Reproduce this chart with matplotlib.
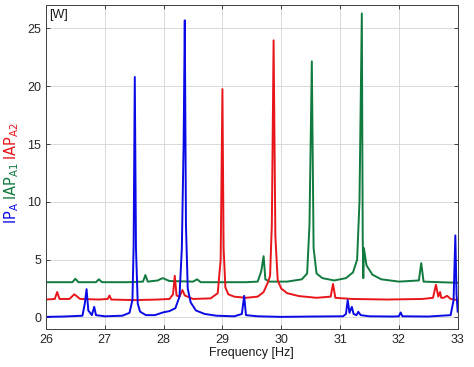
import numpy as np
import matplotlib
matplotlib.use("Agg")
import matplotlib.pyplot as plt

plt.rcParams['font.family'] = ['Liberation Sans', 'DejaVu Sans']

# ---------- Data ----------

blue_f = [26.00, 26.30, 26.62, 26.66, 26.69, 26.72, 26.78, 26.82, 26.85, 27.00,
          27.30, 27.42, 27.47, 27.49, 27.51, 27.53, 27.56, 27.60, 27.70, 27.85,
          28.00, 28.10, 28.20, 28.27, 28.31, 28.34, 28.36, 28.38, 28.41, 28.46,
          28.55, 28.70, 28.90, 29.20, 29.33, 29.37, 29.40, 29.60, 30.00, 30.50,
          31.05, 31.10, 31.13, 31.16, 31.20, 31.23, 31.28, 31.31, 31.35, 31.50,
          31.90, 32.00, 32.03, 32.06, 32.50, 32.88, 32.93, 32.96, 32.98, 33.00]
blue_v = [0.05, 0.08, 0.15, 1.2, 2.45, 0.6, 0.2, 0.92, 0.2, 0.1,
          0.15, 0.4, 1.5, 6.1, 20.8, 6.0, 1.2, 0.5, 0.2, 0.2,
          0.45, 0.55, 0.8, 1.8, 6.0, 15.0, 25.7, 8.0, 2.5, 1.3,
          0.6, 0.3, 0.15, 0.1, 0.3, 1.87, 0.2, 0.1, 0.05, 0.08,
          0.1, 0.3, 1.5, 0.4, 0.92, 0.3, 0.2, 0.49, 0.2, 0.1,
          0.08, 0.1, 0.43, 0.1, 0.08, 0.2, 1.5, 7.1, 2.0, 0.5]

red_f = [26.00, 26.15, 26.19, 26.23, 26.40, 26.45, 26.48, 26.52, 26.58, 26.90,
         27.05, 27.08, 27.11, 27.50, 27.90, 28.10, 28.16, 28.19, 28.22, 28.27,
         28.32, 28.36, 28.50, 28.80, 28.92, 28.97, 29.00, 29.02, 29.05, 29.10,
         29.20, 29.40, 29.60, 29.70, 29.77, 29.81, 29.84, 29.87, 29.90, 29.94,
         30.00, 30.10, 30.30, 30.60, 30.84, 30.88, 30.92, 31.20, 31.80, 32.40,
         32.58, 32.63, 32.67, 32.70, 32.72, 32.76, 32.82, 32.88, 33.00]
red_v = [1.55, 1.6, 2.2, 1.6, 1.6, 1.85, 2.0, 1.85, 1.6, 1.55,
         1.6, 1.9, 1.55, 1.5, 1.55, 1.6, 2.0, 3.6, 1.9, 1.8,
         2.37, 1.9, 1.6, 1.65, 2.1, 5.0, 19.75, 6.0, 2.6, 2.0,
         1.8, 1.7, 1.8, 2.2, 3.0, 3.6, 8.0, 23.97, 7.0, 3.2,
         2.5, 2.1, 1.85, 1.7, 1.8, 2.9, 1.7, 1.6, 1.55, 1.6,
         1.7, 2.83, 1.8, 2.2, 1.7, 1.7, 1.87, 1.6, 1.5]

green_f = [26.00, 26.45, 26.50, 26.55, 26.85, 26.90, 26.95, 27.40, 27.65, 27.69,
           27.73, 27.90, 27.96, 27.99, 28.03, 28.10, 28.50, 28.57, 28.63, 29.00,
           29.40, 29.60, 29.66, 29.70, 29.73, 29.80, 30.10, 30.35, 30.44, 30.48,
           30.52, 30.55, 30.60, 30.70, 30.90, 31.10, 31.22, 31.29, 31.33, 31.37,
           31.385, 31.395, 31.405, 31.45, 31.55, 31.70, 32.00, 32.34, 32.38, 32.42,
           32.70, 33.00]
green_v = [3.05, 3.05, 3.35, 3.05, 3.05, 3.3, 3.05, 3.05, 3.1, 3.67,
           3.1, 3.2, 3.35, 3.4, 3.3, 3.15, 3.1, 3.3, 3.05, 3.05,
           3.05, 3.1, 4.0, 5.3, 3.3, 3.1, 3.1, 3.3, 3.8, 8.0,
           22.15, 6.0, 3.8, 3.4, 3.2, 3.4, 3.9, 5.0, 10.0, 26.3,
           7.0, 3.4, 6.0, 4.5, 3.7, 3.3, 3.1, 3.2, 4.7, 3.1,
           3.05, 3.0]

x_ticks = [26, 27, 28, 29, 30, 31, 32, 33]
y_ticks = [0, 5, 10, 15, 20, 25]

BLUE = '#0a0ae6'
RED = '#e8161b'
GREEN = '#117a3e'


def main():
    fig = plt.figure(figsize=(4.74, 3.67), dpi=100)
    ax = fig.add_axes([0.097, 0.1035, 0.8686, 0.882])

    ax.plot(green_f, green_v, color=GREEN, lw=1.4)
    ax.plot(red_f, red_v, color=RED, lw=1.4)
    ax.plot(blue_f, blue_v, color=BLUE, lw=1.4)

    ax.set_xlim(26, 33)
    ax.set_ylim(-1, 27)
    ax.set_xticks(x_ticks)
    ax.set_yticks(y_ticks)
    ax.grid(True, color='#d9d9d9', lw=0.7)
    ax.set_axisbelow(True)
    ax.tick_params(direction='in', top=True, right=True, labelsize=9,
                   colors='0.15', length=3, width=0.6)
    for s in ax.spines.values():
        s.set_color('0.25')
        s.set_linewidth(0.7)

    ax.set_xlabel('Frequency [Hz]', fontsize=9, labelpad=1, color='0.1')
    ax.text(0.008, 0.99, '[W]', transform=ax.transAxes, fontsize=9,
            va='top', ha='left', color='0.1')

    # multi-coloured y label built from three rotated pieces
    fig.canvas.draw()
    r = fig.canvas.get_renderer()
    parts = [(r'$\mathrm{IP_A}$', BLUE), (r'$\mathrm{\,IAP_{A1}}$', GREEN),
             (r'$\mathrm{\,IAP_{A2}}$', RED)]
    y0 = 367 - 224
    x0 = 2
    for txt, col in parts:
        t = fig.text(x0 / 474, y0 / 367, txt, rotation=90, color=col,
                     fontsize=10.5, ha='left', va='bottom')
        bb = t.get_window_extent(r)
        y0 += bb.height

    fig.savefig('out.png', dpi=100)


if __name__ == "__main__":
    main()
